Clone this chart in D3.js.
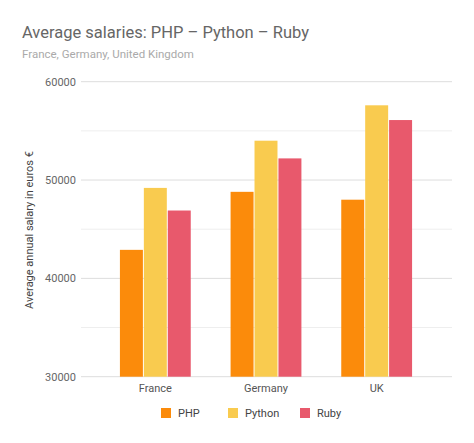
<!DOCTYPE html>
<html><head><meta charset="utf-8">
<script src="https://cdn.jsdelivr.net/npm/d3@7"></script>
<style>body{margin:0;background:#fff}text{font-family:Roboto,sans-serif}</style>
</head><body><svg width="474" height="443"></svg>
<script>
var countries = ['France', 'Germany', 'UK'];
var languages = ['PHP', 'Python', 'Ruby'];
var php = [42900, 48800, 48000];
var python = [49200, 54000, 57600];
var ruby = [46900, 52200, 56100];
var yTicks = [30000, 40000, 50000, 60000];
var colors = ['#fb8b0b', '#f9cb4f', '#e8596c'];

var svg = d3.select('svg');
var series = [php, python, ruby];

var x = d3.scaleBand().domain(countries).range([100, 432]).paddingInner(0.36).paddingOuter(0.18);
var xi = d3.scaleBand().domain(languages).range([0, x.bandwidth()]).paddingInner(0.04);
var y = d3.scaleLinear().domain([30000, 60000]).range([376.7, 81.7]);

// grid
svg.append('g').selectAll('line').data(d3.range(30000, 60001, 5000)).join('line')
  .attr('x1', 81).attr('x2', 452)
  .attr('y1', function (d) { return y(d); }).attr('y2', function (d) { return y(d); })
  .attr('stroke', function (d) { return d % 10000 ? '#eeeeee' : '#dddddd'; });

svg.append('g').selectAll('text').data(yTicks).join('text')
  .attr('x', 76).attr('y', function (d) { return y(d) + 4; })
  .attr('text-anchor', 'end').attr('font-size', 11).attr('fill', '#666')
  .text(function (d) { return d; });

// bars
countries.forEach(function (c, i) {
  svg.append('g').selectAll('rect').data(series).join('rect')
    .attr('x', function (s, j) { return x(c) + xi(languages[j]); })
    .attr('width', xi.bandwidth())
    .attr('y', function (s) { return y(s[i]); })
    .attr('height', function (s) { return y(30000) - y(s[i]); })
    .attr('fill', function (s, j) { return colors[j]; });
});

svg.append('g').selectAll('text').data(countries).join('text')
  .attr('x', function (d) { return x(d) + x.bandwidth() / 2; }).attr('y', 392)
  .attr('text-anchor', 'middle').attr('font-size', 11).attr('fill', '#555')
  .text(function (d) { return d; });

svg.append('text').attr('transform', 'translate(33,230) rotate(-90)')
  .attr('text-anchor', 'middle').attr('font-size', 11).attr('fill', '#444')
  .text('Average annual salary in euros €');

svg.append('text').attr('x', 22).attr('y', 38).attr('font-size', 16.5).attr('fill', '#666')
  .text('Average salaries: PHP – Python – Ruby');
svg.append('text').attr('x', 22).attr('y', 58).attr('font-size', 11.5).attr('fill', '#aaa')
  .text('France, Germany, United Kingdom');

// legend
var legX = [161, 228, 300];
var leg = svg.append('g').selectAll('g').data(languages).join('g')
  .attr('transform', function (d, i) { return 'translate(' + legX[i] + ',408)'; });
leg.append('rect').attr('width', 10).attr('height', 10).attr('fill', function (d, i) { return colors[i]; });
leg.append('text').attr('x', 17).attr('y', 9).attr('font-size', 11).attr('fill', '#444').text(function (d) { return d; });
</script></body></html>
